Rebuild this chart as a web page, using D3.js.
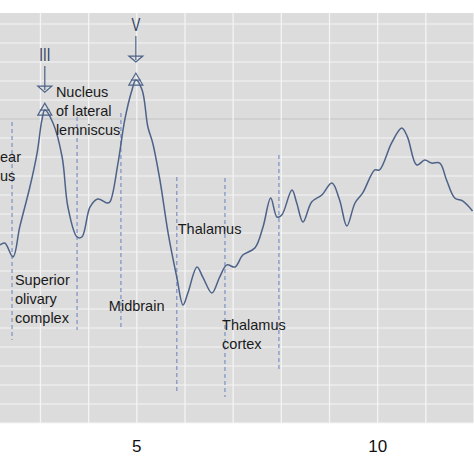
<!DOCTYPE html><html><head><script src="https://cdn.jsdelivr.net/npm/d3@7"></script>
<style>body{margin:0;background:#fff}text{font-family:Arial,"Liberation Sans",sans-serif}</style></head><body>
<svg id="c" width="474" height="474"></svg>
<script>
// time (ms) and amplitude (grid units)
const times=[2.16,2.26,2.43,2.57,2.78,2.93,3.03,3.09,3.26,3.45,3.57,3.76,3.86,4.03,4.19,4.38,4.44,4.61,4.75,4.90,4.98,5.11,5.23,5.33,5.48,5.65,5.83,5.96,6.06,6.25,6.37,6.56,6.72,6.87,7.04,7.20,7.45,7.62,7.78,7.91,8.01,8.22,8.32,8.45,8.63,8.84,9.05,9.21,9.36,9.53,9.69,9.94,10.04,10.29,10.50,10.62,10.81,10.98,11.12,11.29,11.43,11.60,11.77,11.97];
const amps=[9.37,9.47,8.74,10.32,12.42,14.21,15.95,16.47,15.79,14.00,11.37,9.79,9.79,11.37,11.79,11.58,11.63,13.68,15.95,17.53,18.05,17.53,15.58,14.74,12.79,10.00,7.68,6.21,6.84,8.21,7.68,6.84,7.68,8.32,8.21,8.84,9.21,10.32,11.84,10.84,10.95,12.26,11.58,10.58,11.63,12.00,12.63,11.74,10.37,11.58,12.11,13.32,13.32,14.74,15.53,15.05,13.58,13.84,13.68,13.68,12.79,11.84,11.68,11.16];
const xTicks=[5,10];
const markers=[{label:"III",t:3.09,a:16.47},{label:"V",t:4.98,a:18.05}];
const dividers=[{t:2.41,a0:15.84,a1:4.37},{t:3.76,a0:16.11,a1:4.89},{t:4.67,a0:16.32,a1:4.89},{t:5.83,a0:12.95,a1:1.58},{t:6.83,a0:12.89,a1:1.37},{t:7.95,a0:14.11,a1:2.68}];
const labels=[{lines:["ear","us"],t:2.16,a:13.74},{lines:["Nucleus","of lateral","lemniscus"],t:3.32,a:17.16},{lines:["Superior","olivary","complex"],t:2.47,a:7.26},{lines:["Midbrain"],t:4.42,a:5.89},{lines:["Thalamus"],t:5.85,a:9.95},{lines:["Thalamus","cortex"],t:6.77,a:4.89}];

const svg=d3.select("#c");
const x=d3.scaleLinear().domain([2.16,12.0]).range([0,474]);
const y=d3.scaleLinear().domain([0,21.58]).range([423,13]);
svg.append("rect").attr("x",0).attr("y",13).attr("width",474).attr("height",410).attr("fill","#dcdcdc");
const hg=d3.range(0,22,1);
svg.selectAll(".hg").data(hg).join("line").attr("x1",0).attr("x2",474).attr("y1",d=>y(d)).attr("y2",d=>y(d)).attr("stroke",d=>d===16?"#c4c4c4":"#f4f4f4").attr("stroke-width",1);
const vg=d3.range(3,12.5,1);
svg.selectAll(".vg").data(vg).join("line").attr("y1",13).attr("y2",423).attr("x1",d=>x(d)).attr("x2",d=>x(d)).attr("stroke","#f4f4f4").attr("stroke-width",1.3);
svg.selectAll(".tk").data(xTicks).join("text").attr("x",d=>x(d)).attr("y",452).attr("text-anchor","middle").attr("font-size",17).attr("fill","#111").text(d=>d);
svg.selectAll(".dv").data(dividers).join("line").attr("x1",d=>x(d.t)).attr("x2",d=>x(d.t)).attr("y1",d=>y(d.a0)).attr("y2",d=>y(d.a1)).attr("stroke","#7d90c4").attr("stroke-width",1.2).attr("stroke-dasharray","4,3");
const pts=times.map((t,i)=>[x(t),y(amps[i])]);
svg.append("path").attr("d",d3.line().curve(d3.curveCatmullRom)(pts)).attr("fill","none").attr("stroke","#4c6288").attr("stroke-width",1.5);
markers.forEach(m=>{
  const px=x(m.t),py=y(m.a);
  const g=svg.append("g").attr("stroke","#4c6288").attr("fill","none").attr("stroke-width",1.2);
  g.append("line").attr("x1",px).attr("x2",px).attr("y1",py-44).attr("y2",py-20);
  g.append("path").attr("d",`M${px-7},${py-24}L${px+7},${py-24}L${px},${py-18}Z`);
  g.append("path").attr("d",`M${px-7},${py+5}L${px+7},${py+5}L${px},${py-7}Z`);
  g.append("line").attr("x1",px-5).attr("x2",px+5).attr("y1",py).attr("y2",py);
  svg.append("text").attr("x",px).attr("y",py-49).attr("text-anchor","middle").attr("font-size",19).attr("fill","#2f3f60").attr("transform",`translate(${px},${py-49}) scale(0.7,1) translate(${-px},${-(py-49)})`).text(m.label);
});
labels.forEach(l=>{
  svg.append("text").attr("x",x(l.t)).attr("y",y(l.a)).attr("font-size",14.5).attr("fill","#1a1a1a")
   .selectAll("tspan").data(l.lines).join("tspan").attr("x",x(l.t)).attr("dy",(d,i)=>i?19:0).text(d=>d);
});
</script></body></html>
